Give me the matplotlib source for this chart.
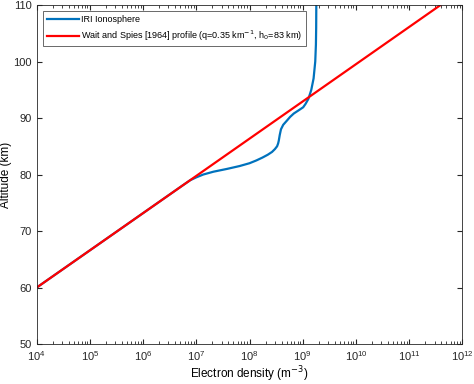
import matplotlib
matplotlib.use('Agg')
import matplotlib.pyplot as plt
import numpy as np

plt.rcParams['font.family'] = ['Liberation Sans', 'DejaVu Sans']

# IRI profile
iri_alt = [60, 70, 78.0, 79.0, 79.5, 80.0, 80.5, 81.0, 81.5, 82.0, 82.5, 83.0,
           83.5, 84.0, 84.5, 85.0, 85.5, 86.0, 87.0, 88.0, 88.8, 89.5, 90.2,
           90.8, 91.4, 91.9, 92.5, 93.4, 95.0, 97.0, 100, 103, 106, 110]
iri_ne = [1.0e4, 3.3e5, 5.4e6, 7.7e6, 1.0e7, 1.35e7, 2.1e7, 3.8e7, 6.5e7,
          1.0e8, 1.35e8, 1.75e8, 2.2e8, 2.65e8, 3.0e8, 3.3e8, 3.45e8, 3.55e8,
          3.7e8, 3.9e8, 4.3e8, 5.0e8, 5.8e8, 6.8e8, 8.5e8, 1.02e9, 1.13e9,
          1.28e9, 1.45e9, 1.6e9, 1.72e9, 1.77e9, 1.79e9, 1.8e9]

# Wait and Spies profile (straight line on log axis)
ws_alt = [60, 110]
ws_ne = [1.0e4, 3.9e11]

blue = (0, 0.447, 0.741)

fig = plt.figure(figsize=(4.74, 3.84), dpi=100)
ax = fig.add_axes([0.0774, 0.104, 0.898, 0.883])

ax.plot(iri_ne, iri_alt, color=blue, lw=1.6, label='IRI Ionosphere')
ax.plot(ws_ne, ws_alt, color='red', lw=1.6,
        label='Wait and Spies [1964] profile (q=0.35 km$^{-1}$, h$_0$=83 km)')

ax.set_xscale('log')
ax.set_xlim(1e4, 1e12)
ax.set_ylim(50, 110)
ax.set_xticks([10.0**k for k in range(4, 13)])
ax.set_yticks(np.arange(50, 111, 10))
ax.tick_params(which='both', direction='in', top=True, right=True,
               labelsize=8, colors='0.15')
ax.tick_params(which='major', length=3.5)
ax.tick_params(which='minor', length=2)
for s in ax.spines.values():
    s.set_color('0.15')
    s.set_linewidth(0.6)

ax.set_xlabel('Electron density (m$^{-3}$)', fontsize=8.5, labelpad=1)
ax.set_ylabel('Altitude (km)', fontsize=8.5, labelpad=1)

leg = ax.legend(loc='upper left', fontsize=6.5, fancybox=False,
                edgecolor='0.15', handlelength=3.6, borderaxespad=0.7,
                labelspacing=0.5, handletextpad=0.2, borderpad=0.4)
leg.get_frame().set_linewidth(0.6)

fig.savefig('out.png', dpi=100)
